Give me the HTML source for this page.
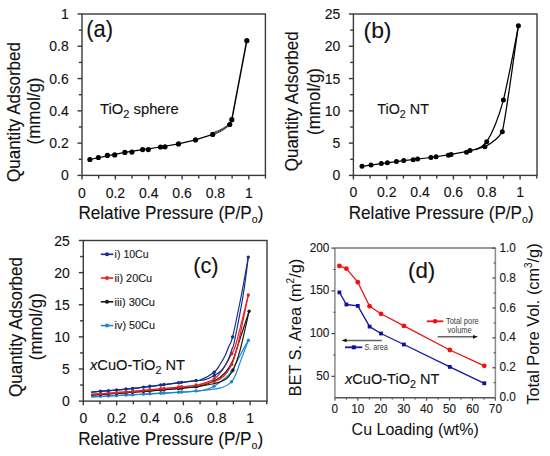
<!DOCTYPE html>
<html><head><meta charset="utf-8">
<style>
html,body{margin:0;padding:0;background:#fff;width:550px;height:456px;overflow:hidden;}
svg{display:block;font-family:"Liberation Sans", sans-serif;}
text{stroke:#111;stroke-width:0.12px;}
.thin{stroke:none;}
</style></head>
<body>
<svg width="550" height="456" viewBox="0 0 550 456">
<rect x="0" y="0" width="550" height="456" fill="#fff"/>
<rect x="82" y="14" width="183.4" height="161.4" fill="none" stroke="#3a3a3a" stroke-width="1.4"/>
<line x1="77.5" y1="175.4" x2="82" y2="175.4" stroke="#3a3a3a" stroke-width="1.4"/>
<line x1="77.5" y1="143.12" x2="82" y2="143.12" stroke="#3a3a3a" stroke-width="1.4"/>
<line x1="77.5" y1="110.84" x2="82" y2="110.84" stroke="#3a3a3a" stroke-width="1.4"/>
<line x1="77.5" y1="78.56" x2="82" y2="78.56" stroke="#3a3a3a" stroke-width="1.4"/>
<line x1="77.5" y1="46.28" x2="82" y2="46.28" stroke="#3a3a3a" stroke-width="1.4"/>
<line x1="77.5" y1="14" x2="82" y2="14" stroke="#3a3a3a" stroke-width="1.4"/>
<line x1="78.8" y1="159.26" x2="82" y2="159.26" stroke="#3a3a3a" stroke-width="1.4"/>
<line x1="78.8" y1="126.98" x2="82" y2="126.98" stroke="#3a3a3a" stroke-width="1.4"/>
<line x1="78.8" y1="94.7" x2="82" y2="94.7" stroke="#3a3a3a" stroke-width="1.4"/>
<line x1="78.8" y1="62.42" x2="82" y2="62.42" stroke="#3a3a3a" stroke-width="1.4"/>
<line x1="78.8" y1="30.14" x2="82" y2="30.14" stroke="#3a3a3a" stroke-width="1.4"/>
<line x1="82" y1="175.4" x2="82" y2="179.6" stroke="#3a3a3a" stroke-width="1.4"/>
<line x1="115.36" y1="175.4" x2="115.36" y2="179.6" stroke="#3a3a3a" stroke-width="1.4"/>
<line x1="148.72" y1="175.4" x2="148.72" y2="179.6" stroke="#3a3a3a" stroke-width="1.4"/>
<line x1="182.08" y1="175.4" x2="182.08" y2="179.6" stroke="#3a3a3a" stroke-width="1.4"/>
<line x1="215.44" y1="175.4" x2="215.44" y2="179.6" stroke="#3a3a3a" stroke-width="1.4"/>
<line x1="248.8" y1="175.4" x2="248.8" y2="179.6" stroke="#3a3a3a" stroke-width="1.4"/>
<line x1="98.68" y1="175.4" x2="98.68" y2="178.6" stroke="#3a3a3a" stroke-width="1.4"/>
<line x1="132.04" y1="175.4" x2="132.04" y2="178.6" stroke="#3a3a3a" stroke-width="1.4"/>
<line x1="165.4" y1="175.4" x2="165.4" y2="178.6" stroke="#3a3a3a" stroke-width="1.4"/>
<line x1="198.76" y1="175.4" x2="198.76" y2="178.6" stroke="#3a3a3a" stroke-width="1.4"/>
<line x1="232.12" y1="175.4" x2="232.12" y2="178.6" stroke="#3a3a3a" stroke-width="1.4"/>
<line x1="265.48" y1="175.4" x2="265.48" y2="178.6" stroke="#3a3a3a" stroke-width="1.4"/>
<text x="68.7" y="180.4" font-size="15.2" text-anchor="end" fill="#111" textLength="7.79" lengthAdjust="spacingAndGlyphs">0</text>
<text x="68.7" y="148.12" font-size="15.2" text-anchor="end" fill="#111" textLength="19.46" lengthAdjust="spacingAndGlyphs">0.2</text>
<text x="68.7" y="115.84" font-size="15.2" text-anchor="end" fill="#111" textLength="19.46" lengthAdjust="spacingAndGlyphs">0.4</text>
<text x="68.7" y="83.56" font-size="15.2" text-anchor="end" fill="#111" textLength="19.46" lengthAdjust="spacingAndGlyphs">0.6</text>
<text x="68.7" y="51.28" font-size="15.2" text-anchor="end" fill="#111" textLength="19.46" lengthAdjust="spacingAndGlyphs">0.8</text>
<text x="68.7" y="19" font-size="15.2" text-anchor="end" fill="#111" textLength="7.79" lengthAdjust="spacingAndGlyphs">1</text>
<text x="82" y="197.5" font-size="15.2" text-anchor="middle" fill="#111" textLength="7.79" lengthAdjust="spacingAndGlyphs">0</text>
<text x="115.36" y="197.5" font-size="15.2" text-anchor="middle" fill="#111" textLength="19.46" lengthAdjust="spacingAndGlyphs">0.2</text>
<text x="148.72" y="197.5" font-size="15.2" text-anchor="middle" fill="#111" textLength="19.46" lengthAdjust="spacingAndGlyphs">0.4</text>
<text x="182.08" y="197.5" font-size="15.2" text-anchor="middle" fill="#111" textLength="19.46" lengthAdjust="spacingAndGlyphs">0.6</text>
<text x="215.44" y="197.5" font-size="15.2" text-anchor="middle" fill="#111" textLength="19.46" lengthAdjust="spacingAndGlyphs">0.8</text>
<text x="248.8" y="197.5" font-size="15.2" text-anchor="middle" fill="#111" textLength="7.79" lengthAdjust="spacingAndGlyphs">1</text>
<text transform="translate(19.7,112) rotate(-90)" font-size="17.6" text-anchor="middle" fill="#111" textLength="140" lengthAdjust="spacingAndGlyphs">Quantity Adsorbed</text>
<text transform="translate(39.7,111) rotate(-90)" font-size="17.6" text-anchor="middle" fill="#111" textLength="67" lengthAdjust="spacingAndGlyphs">(mmol/g)</text>
<text x="78.4" y="219.3" font-size="17.7" fill="#111" textLength="185" lengthAdjust="spacingAndGlyphs">Relative Pressure (P/P<tspan font-size="11" dy="4">o</tspan><tspan dy="-4">)</tspan></text>
<path d="M89.9,159.5 L107.4,155.8 L124.9,152.4 L142.6,149.6 L160.5,147.0 L178.5,143.9 L195.5,139.9 L212.7,134.4" fill="none" stroke="#000" stroke-width="1.2" stroke-linejoin="round" stroke-linecap="round" />
<path d="M229.7,124.5 L231.8,119.7 L246.8,40.7" fill="none" stroke="#000" stroke-width="1.5" stroke-linejoin="round" stroke-linecap="round" />
<path d="M213.5,134.6 C219,132.6 224,130.2 229.2,125.5" fill="none" stroke="#000" stroke-width="0.75" stroke-linejoin="round" stroke-linecap="round" transform="translate(0.00,-0.00)"/>
<path d="M213.5,134.6 C219,132.6 224,130.2 229.2,125.5" fill="none" stroke="#000" stroke-width="0.75" stroke-linejoin="round" stroke-linecap="round" transform="translate(0.65,-1.30)"/>
<path d="M213.5,134.6 C219,132.6 224,130.2 229.2,125.5" fill="none" stroke="#000" stroke-width="0.75" stroke-linejoin="round" stroke-linecap="round" transform="translate(1.30,-2.60)"/>
<circle cx="89.9" cy="159.5" r="2.6" fill="#000"/>
<circle cx="98.4" cy="157.5" r="2.6" fill="#000"/>
<circle cx="107.4" cy="155.4" r="2.6" fill="#000"/>
<circle cx="114.7" cy="154.9" r="2.6" fill="#000"/>
<circle cx="124.9" cy="152.4" r="2.6" fill="#000"/>
<circle cx="131.9" cy="152.1" r="2.6" fill="#000"/>
<circle cx="142.6" cy="149.6" r="2.6" fill="#000"/>
<circle cx="148.3" cy="149.6" r="2.6" fill="#000"/>
<circle cx="160.5" cy="147" r="2.6" fill="#000"/>
<circle cx="165" cy="146.8" r="2.6" fill="#000"/>
<circle cx="178.5" cy="143.9" r="2.6" fill="#000"/>
<circle cx="195.5" cy="139.9" r="2.6" fill="#000"/>
<circle cx="212.7" cy="134.4" r="2.6" fill="#000"/>
<circle cx="229.7" cy="124.5" r="2.6" fill="#000"/>
<circle cx="231.8" cy="119.7" r="2.6" fill="#000"/>
<circle cx="246.8" cy="40.7" r="2.6" fill="#000"/>
<text x="100" y="113.8" font-size="14" text-anchor="start" fill="#111" textLength="78.7" lengthAdjust="spacingAndGlyphs">TiO<tspan font-size="10.5" dy="4">2</tspan><tspan dy="-4"> sphere</tspan></text>
<text x="86.2" y="37.4" font-size="24" text-anchor="start" fill="#111" textLength="26.8" lengthAdjust="spacingAndGlyphs">(a)</text>
<rect x="353.4" y="14" width="183.6" height="161.4" fill="none" stroke="#3a3a3a" stroke-width="1.4"/>
<line x1="348.9" y1="175.4" x2="353.4" y2="175.4" stroke="#3a3a3a" stroke-width="1.4"/>
<line x1="348.9" y1="143.12" x2="353.4" y2="143.12" stroke="#3a3a3a" stroke-width="1.4"/>
<line x1="348.9" y1="110.84" x2="353.4" y2="110.84" stroke="#3a3a3a" stroke-width="1.4"/>
<line x1="348.9" y1="78.56" x2="353.4" y2="78.56" stroke="#3a3a3a" stroke-width="1.4"/>
<line x1="348.9" y1="46.28" x2="353.4" y2="46.28" stroke="#3a3a3a" stroke-width="1.4"/>
<line x1="348.9" y1="14" x2="353.4" y2="14" stroke="#3a3a3a" stroke-width="1.4"/>
<line x1="350.2" y1="159.26" x2="353.4" y2="159.26" stroke="#3a3a3a" stroke-width="1.4"/>
<line x1="350.2" y1="126.98" x2="353.4" y2="126.98" stroke="#3a3a3a" stroke-width="1.4"/>
<line x1="350.2" y1="94.7" x2="353.4" y2="94.7" stroke="#3a3a3a" stroke-width="1.4"/>
<line x1="350.2" y1="62.42" x2="353.4" y2="62.42" stroke="#3a3a3a" stroke-width="1.4"/>
<line x1="350.2" y1="30.14" x2="353.4" y2="30.14" stroke="#3a3a3a" stroke-width="1.4"/>
<line x1="353.4" y1="175.4" x2="353.4" y2="179.6" stroke="#3a3a3a" stroke-width="1.4"/>
<line x1="386.74" y1="175.4" x2="386.74" y2="179.6" stroke="#3a3a3a" stroke-width="1.4"/>
<line x1="420.08" y1="175.4" x2="420.08" y2="179.6" stroke="#3a3a3a" stroke-width="1.4"/>
<line x1="453.42" y1="175.4" x2="453.42" y2="179.6" stroke="#3a3a3a" stroke-width="1.4"/>
<line x1="486.76" y1="175.4" x2="486.76" y2="179.6" stroke="#3a3a3a" stroke-width="1.4"/>
<line x1="520.1" y1="175.4" x2="520.1" y2="179.6" stroke="#3a3a3a" stroke-width="1.4"/>
<line x1="370.07" y1="175.4" x2="370.07" y2="178.6" stroke="#3a3a3a" stroke-width="1.4"/>
<line x1="403.41" y1="175.4" x2="403.41" y2="178.6" stroke="#3a3a3a" stroke-width="1.4"/>
<line x1="436.75" y1="175.4" x2="436.75" y2="178.6" stroke="#3a3a3a" stroke-width="1.4"/>
<line x1="470.09" y1="175.4" x2="470.09" y2="178.6" stroke="#3a3a3a" stroke-width="1.4"/>
<line x1="503.43" y1="175.4" x2="503.43" y2="178.6" stroke="#3a3a3a" stroke-width="1.4"/>
<line x1="536.77" y1="175.4" x2="536.77" y2="178.6" stroke="#3a3a3a" stroke-width="1.4"/>
<text x="340.4" y="180.4" font-size="15.2" text-anchor="end" fill="#111" textLength="7.79" lengthAdjust="spacingAndGlyphs">0</text>
<text x="340.4" y="148.12" font-size="15.2" text-anchor="end" fill="#111" textLength="7.79" lengthAdjust="spacingAndGlyphs">5</text>
<text x="340.4" y="115.84" font-size="15.2" text-anchor="end" fill="#111" textLength="15.57" lengthAdjust="spacingAndGlyphs">10</text>
<text x="340.4" y="83.56" font-size="15.2" text-anchor="end" fill="#111" textLength="15.57" lengthAdjust="spacingAndGlyphs">15</text>
<text x="340.4" y="51.28" font-size="15.2" text-anchor="end" fill="#111" textLength="15.57" lengthAdjust="spacingAndGlyphs">20</text>
<text x="340.4" y="19" font-size="15.2" text-anchor="end" fill="#111" textLength="15.57" lengthAdjust="spacingAndGlyphs">25</text>
<text x="353.4" y="197.2" font-size="15.2" text-anchor="middle" fill="#111" textLength="7.79" lengthAdjust="spacingAndGlyphs">0</text>
<text x="386.74" y="197.2" font-size="15.2" text-anchor="middle" fill="#111" textLength="19.46" lengthAdjust="spacingAndGlyphs">0.2</text>
<text x="420.08" y="197.2" font-size="15.2" text-anchor="middle" fill="#111" textLength="19.46" lengthAdjust="spacingAndGlyphs">0.4</text>
<text x="453.42" y="197.2" font-size="15.2" text-anchor="middle" fill="#111" textLength="19.46" lengthAdjust="spacingAndGlyphs">0.6</text>
<text x="486.76" y="197.2" font-size="15.2" text-anchor="middle" fill="#111" textLength="19.46" lengthAdjust="spacingAndGlyphs">0.8</text>
<text x="520.1" y="197.2" font-size="15.2" text-anchor="middle" fill="#111" textLength="7.79" lengthAdjust="spacingAndGlyphs">1</text>
<text transform="translate(298.3,101.3) rotate(-90)" font-size="17.6" text-anchor="middle" fill="#111" textLength="140" lengthAdjust="spacingAndGlyphs">Quantity Adsorbed</text>
<text transform="translate(319.6,101.5) rotate(-90)" font-size="17.6" text-anchor="middle" fill="#111" textLength="67" lengthAdjust="spacingAndGlyphs">(mmol/g)</text>
<text x="348.7" y="218.7" font-size="17.7" fill="#111" textLength="185" lengthAdjust="spacingAndGlyphs">Relative Pressure (P/P<tspan font-size="11" dy="4">o</tspan><tspan dy="-4">)</tspan></text>
<path d="M362,166.3 L381.3,163.6 L403.7,160.6 L430.9,157.5 L451.1,154.4 L470,150.8 L484.9,146.7 C492,143 498,138.5 502.3,131.8 C507,110 513,62 518.4,25.8" fill="none" stroke="#000" stroke-width="1.25" stroke-linejoin="round" stroke-linecap="round" />
<path d="M476,149.6 C480,148 484,145 486.7,141.8 C493,132 499,116 503.4,100.1 C508,80 513,55 518.4,25.8" fill="none" stroke="#000" stroke-width="1.25" stroke-linejoin="round" stroke-linecap="round" />
<circle cx="362" cy="166.3" r="2.5" fill="#000"/>
<circle cx="371" cy="164.9" r="2.5" fill="#000"/>
<circle cx="381.3" cy="163.6" r="2.5" fill="#000"/>
<circle cx="387.4" cy="162.7" r="2.5" fill="#000"/>
<circle cx="396.4" cy="161.6" r="2.5" fill="#000"/>
<circle cx="403.7" cy="160.6" r="2.5" fill="#000"/>
<circle cx="413.2" cy="159.8" r="2.5" fill="#000"/>
<circle cx="417.6" cy="159.1" r="2.5" fill="#000"/>
<circle cx="430.9" cy="157.5" r="2.5" fill="#000"/>
<circle cx="436.1" cy="156.7" r="2.5" fill="#000"/>
<circle cx="448.4" cy="155.3" r="2.5" fill="#000"/>
<circle cx="451.1" cy="154.4" r="2.5" fill="#000"/>
<circle cx="466.5" cy="152.3" r="2.5" fill="#000"/>
<circle cx="470" cy="150.5" r="2.5" fill="#000"/>
<circle cx="484.9" cy="146.7" r="2.5" fill="#000"/>
<circle cx="486.7" cy="141.8" r="2.5" fill="#000"/>
<circle cx="502.3" cy="131.8" r="2.5" fill="#000"/>
<circle cx="503.4" cy="100.1" r="2.5" fill="#000"/>
<circle cx="518.4" cy="25.8" r="2.5" fill="#000"/>
<text x="377.3" y="113.9" font-size="14.8" text-anchor="start" fill="#111" textLength="51.6" lengthAdjust="spacingAndGlyphs">TiO<tspan font-size="11" dy="4.1">2</tspan><tspan dy="-4.1"> NT</tspan></text>
<text x="363.5" y="37.6" font-size="22.5" text-anchor="start" fill="#111" textLength="28" lengthAdjust="spacingAndGlyphs">(b)</text>
<rect x="83.3" y="240.5" width="183.7" height="160.6" fill="none" stroke="#3a3a3a" stroke-width="1.4"/>
<line x1="78.8" y1="401.1" x2="83.3" y2="401.1" stroke="#3a3a3a" stroke-width="1.4"/>
<line x1="78.8" y1="368.98" x2="83.3" y2="368.98" stroke="#3a3a3a" stroke-width="1.4"/>
<line x1="78.8" y1="336.86" x2="83.3" y2="336.86" stroke="#3a3a3a" stroke-width="1.4"/>
<line x1="78.8" y1="304.74" x2="83.3" y2="304.74" stroke="#3a3a3a" stroke-width="1.4"/>
<line x1="78.8" y1="272.62" x2="83.3" y2="272.62" stroke="#3a3a3a" stroke-width="1.4"/>
<line x1="78.8" y1="240.5" x2="83.3" y2="240.5" stroke="#3a3a3a" stroke-width="1.4"/>
<line x1="80.1" y1="385.04" x2="83.3" y2="385.04" stroke="#3a3a3a" stroke-width="1.4"/>
<line x1="80.1" y1="352.92" x2="83.3" y2="352.92" stroke="#3a3a3a" stroke-width="1.4"/>
<line x1="80.1" y1="320.8" x2="83.3" y2="320.8" stroke="#3a3a3a" stroke-width="1.4"/>
<line x1="80.1" y1="288.68" x2="83.3" y2="288.68" stroke="#3a3a3a" stroke-width="1.4"/>
<line x1="80.1" y1="256.56" x2="83.3" y2="256.56" stroke="#3a3a3a" stroke-width="1.4"/>
<line x1="83.3" y1="401.1" x2="83.3" y2="405.3" stroke="#3a3a3a" stroke-width="1.4"/>
<line x1="116.66" y1="401.1" x2="116.66" y2="405.3" stroke="#3a3a3a" stroke-width="1.4"/>
<line x1="150.02" y1="401.1" x2="150.02" y2="405.3" stroke="#3a3a3a" stroke-width="1.4"/>
<line x1="183.38" y1="401.1" x2="183.38" y2="405.3" stroke="#3a3a3a" stroke-width="1.4"/>
<line x1="216.74" y1="401.1" x2="216.74" y2="405.3" stroke="#3a3a3a" stroke-width="1.4"/>
<line x1="250.1" y1="401.1" x2="250.1" y2="405.3" stroke="#3a3a3a" stroke-width="1.4"/>
<line x1="99.98" y1="401.1" x2="99.98" y2="404.3" stroke="#3a3a3a" stroke-width="1.4"/>
<line x1="133.34" y1="401.1" x2="133.34" y2="404.3" stroke="#3a3a3a" stroke-width="1.4"/>
<line x1="166.7" y1="401.1" x2="166.7" y2="404.3" stroke="#3a3a3a" stroke-width="1.4"/>
<line x1="200.06" y1="401.1" x2="200.06" y2="404.3" stroke="#3a3a3a" stroke-width="1.4"/>
<line x1="233.42" y1="401.1" x2="233.42" y2="404.3" stroke="#3a3a3a" stroke-width="1.4"/>
<line x1="266.78" y1="401.1" x2="266.78" y2="404.3" stroke="#3a3a3a" stroke-width="1.4"/>
<text x="69.7" y="406.1" font-size="15.2" text-anchor="end" fill="#111" textLength="7.79" lengthAdjust="spacingAndGlyphs">0</text>
<text x="69.7" y="373.98" font-size="15.2" text-anchor="end" fill="#111" textLength="7.79" lengthAdjust="spacingAndGlyphs">5</text>
<text x="69.7" y="341.86" font-size="15.2" text-anchor="end" fill="#111" textLength="15.57" lengthAdjust="spacingAndGlyphs">10</text>
<text x="69.7" y="309.74" font-size="15.2" text-anchor="end" fill="#111" textLength="15.57" lengthAdjust="spacingAndGlyphs">15</text>
<text x="69.7" y="277.62" font-size="15.2" text-anchor="end" fill="#111" textLength="15.57" lengthAdjust="spacingAndGlyphs">20</text>
<text x="69.7" y="245.5" font-size="15.2" text-anchor="end" fill="#111" textLength="15.57" lengthAdjust="spacingAndGlyphs">25</text>
<text x="83.3" y="423.4" font-size="15.2" text-anchor="middle" fill="#111" textLength="7.79" lengthAdjust="spacingAndGlyphs">0</text>
<text x="116.66" y="423.4" font-size="15.2" text-anchor="middle" fill="#111" textLength="19.46" lengthAdjust="spacingAndGlyphs">0.2</text>
<text x="150.02" y="423.4" font-size="15.2" text-anchor="middle" fill="#111" textLength="19.46" lengthAdjust="spacingAndGlyphs">0.4</text>
<text x="183.38" y="423.4" font-size="15.2" text-anchor="middle" fill="#111" textLength="19.46" lengthAdjust="spacingAndGlyphs">0.6</text>
<text x="216.74" y="423.4" font-size="15.2" text-anchor="middle" fill="#111" textLength="19.46" lengthAdjust="spacingAndGlyphs">0.8</text>
<text x="250.1" y="423.4" font-size="15.2" text-anchor="middle" fill="#111" textLength="7.79" lengthAdjust="spacingAndGlyphs">1</text>
<text transform="translate(21.5,327) rotate(-90)" font-size="17.6" text-anchor="middle" fill="#111" textLength="140" lengthAdjust="spacingAndGlyphs">Quantity Adsorbed</text>
<text transform="translate(41.5,326.7) rotate(-90)" font-size="17.6" text-anchor="middle" fill="#111" textLength="67" lengthAdjust="spacingAndGlyphs">(mmol/g)</text>
<text x="78.2" y="445" font-size="17.7" fill="#111" textLength="185" lengthAdjust="spacingAndGlyphs">Relative Pressure (P/P<tspan font-size="11" dy="4">o</tspan><tspan dy="-4">)</tspan></text>
<path d="M91.6,396.8 C98,396.48 113.6,395.77 130,394.9 C146.4,394.03 177.5,392.43 190,391.6 C202.5,390.77 201,390.8 205,389.9 C209,389 211.17,387.77 214,386.2 C216.83,384.63 219.03,382.97 222,380.5 C224.97,378.03 228.5,376.15 231.8,371.4 C235.1,366.65 239.03,357.2 241.8,352 C244.57,346.8 247.3,342.17 248.4,340.2" fill="none" stroke="#1d86d4" stroke-width="1.2" stroke-linejoin="round" stroke-linecap="round" />
<path d="M91.6,396.8 C98,396.48 113.6,395.77 130,394.9 C146.4,394.03 176.22,392.55 190,391.6 C203.78,390.65 207.2,389.92 212.7,389.2 C218.2,388.48 219.87,388.53 223,387.3 C226.13,386.07 229.38,383.93 231.5,381.8 C233.62,379.67 233.98,378.53 235.7,374.5 C237.42,370.47 239.68,363.32 241.8,357.6 C243.92,351.88 247.3,343.1 248.4,340.2" fill="none" stroke="#1d86d4" stroke-width="1.2" stroke-linejoin="round" stroke-linecap="round" />
<circle cx="100.5" cy="396.36" r="1.7" fill="#1d86d4"/>
<circle cx="108.5" cy="395.96" r="1.7" fill="#1d86d4"/>
<circle cx="116.6" cy="395.56" r="1.7" fill="#1d86d4"/>
<circle cx="126" cy="395.1" r="1.7" fill="#1d86d4"/>
<circle cx="132.6" cy="394.76" r="1.7" fill="#1d86d4"/>
<circle cx="143.5" cy="394.16" r="1.7" fill="#1d86d4"/>
<circle cx="149.8" cy="393.81" r="1.7" fill="#1d86d4"/>
<circle cx="160.8" cy="393.21" r="1.7" fill="#1d86d4"/>
<circle cx="164" cy="393.03" r="1.7" fill="#1d86d4"/>
<circle cx="178.6" cy="392.23" r="1.7" fill="#1d86d4"/>
<circle cx="181.6" cy="392.06" r="1.7" fill="#1d86d4"/>
<circle cx="196.1" cy="390.91" r="1.7" fill="#1d86d4"/>
<circle cx="214" cy="386.2" r="1.7" fill="#1d86d4"/>
<circle cx="231.8" cy="371.4" r="1.7" fill="#1d86d4"/>
<circle cx="248.4" cy="340.2" r="1.7" fill="#1d86d4"/>
<circle cx="231.5" cy="381.8" r="1.7" fill="#1d86d4"/>
<path d="M91.6,395.2 C98,394.75 113.6,393.78 130,392.5 C146.4,391.22 178.33,388.55 190,387.5 C201.67,386.45 195.97,387.28 200,386.2 C204.03,385.12 210.03,383.2 214.2,381 C218.37,378.8 221.93,376.33 225,373 C228.07,369.67 230.43,365.67 232.6,361 C234.77,356.33 235.25,353.3 238,345 C240.75,336.7 247.25,316.83 249.1,311.2" fill="none" stroke="#1a1a1a" stroke-width="1.2" stroke-linejoin="round" stroke-linecap="round" />
<path d="M91.6,395.2 C98,394.75 113.6,393.78 130,392.5 C146.4,391.22 176,388.98 190,387.5 C204,386.02 208,385.02 214,383.6 C220,382.18 222.83,381.27 226,379 C229.17,376.73 231,373.67 233,370 C235,366.33 236.6,361.17 238,357 C239.4,352.83 239.55,352.63 241.4,345 C243.25,337.37 247.82,316.83 249.1,311.2" fill="none" stroke="#1a1a1a" stroke-width="1.2" stroke-linejoin="round" stroke-linecap="round" />
<circle cx="100.5" cy="394.57" r="1.7" fill="#1a1a1a"/>
<circle cx="108.5" cy="394.01" r="1.7" fill="#1a1a1a"/>
<circle cx="116.6" cy="393.44" r="1.7" fill="#1a1a1a"/>
<circle cx="126" cy="392.78" r="1.7" fill="#1a1a1a"/>
<circle cx="132.6" cy="392.28" r="1.7" fill="#1a1a1a"/>
<circle cx="143.5" cy="391.38" r="1.7" fill="#1a1a1a"/>
<circle cx="149.8" cy="390.85" r="1.7" fill="#1a1a1a"/>
<circle cx="160.8" cy="389.93" r="1.7" fill="#1a1a1a"/>
<circle cx="164" cy="389.67" r="1.7" fill="#1a1a1a"/>
<circle cx="178.6" cy="388.45" r="1.7" fill="#1a1a1a"/>
<circle cx="181.6" cy="388.2" r="1.7" fill="#1a1a1a"/>
<circle cx="196.1" cy="386.71" r="1.7" fill="#1a1a1a"/>
<circle cx="214.2" cy="381" r="1.7" fill="#1a1a1a"/>
<circle cx="249.1" cy="311.2" r="1.7" fill="#1a1a1a"/>
<circle cx="233" cy="370" r="1.7" fill="#1a1a1a"/>
<path d="M91.6,394.4 C98,393.93 113.6,393 130,391.6 C146.4,390.2 178.33,387.22 190,386 C201.67,384.78 195.97,385.48 200,384.3 C204.03,383.12 210.3,381.57 214.2,378.9 C218.1,376.23 220.47,372.48 223.4,368.3 C226.33,364.12 229.62,358.18 231.8,353.8 C233.98,349.42 233.75,351.8 236.5,342 C239.25,332.2 246.33,302.83 248.3,295" fill="none" stroke="#e8231f" stroke-width="1.2" stroke-linejoin="round" stroke-linecap="round" />
<path d="M91.6,394.4 C98,393.93 113.6,393 130,391.6 C146.4,390.2 175.95,387.68 190,386 C204.05,384.32 208.63,383.17 214.3,381.5 C219.97,379.83 221.08,378.83 224,376 C226.92,373.17 229.8,368.5 231.8,364.5 C233.8,360.5 234.8,356.08 236,352 C237.2,347.92 236.95,349.5 239,340 C241.05,330.5 246.75,302.5 248.3,295" fill="none" stroke="#e8231f" stroke-width="1.2" stroke-linejoin="round" stroke-linecap="round" />
<circle cx="100.5" cy="393.75" r="1.7" fill="#e8231f"/>
<circle cx="108.5" cy="393.17" r="1.7" fill="#e8231f"/>
<circle cx="116.6" cy="392.58" r="1.7" fill="#e8231f"/>
<circle cx="126" cy="391.89" r="1.7" fill="#e8231f"/>
<circle cx="132.6" cy="391.36" r="1.7" fill="#e8231f"/>
<circle cx="143.5" cy="390.34" r="1.7" fill="#e8231f"/>
<circle cx="149.8" cy="389.75" r="1.7" fill="#e8231f"/>
<circle cx="160.8" cy="388.73" r="1.7" fill="#e8231f"/>
<circle cx="164" cy="388.43" r="1.7" fill="#e8231f"/>
<circle cx="178.6" cy="387.06" r="1.7" fill="#e8231f"/>
<circle cx="181.6" cy="386.78" r="1.7" fill="#e8231f"/>
<circle cx="196.1" cy="384.96" r="1.7" fill="#e8231f"/>
<circle cx="214.2" cy="378.9" r="1.7" fill="#e8231f"/>
<circle cx="231.8" cy="353.8" r="1.7" fill="#e8231f"/>
<circle cx="248.3" cy="295" r="1.7" fill="#e8231f"/>
<circle cx="231.8" cy="364.5" r="1.7" fill="#e8231f"/>
<path d="M91.6,392.1 C98.5,391.48 116.6,390.2 133,388.4 C149.4,386.6 178.83,382.68 190,381.3 C201.17,379.92 195.97,381.62 200,380.1 C204.03,378.58 210.87,374.8 214.2,372.2 C217.53,369.6 218.22,367.18 220,364.5 C221.78,361.82 223.4,359.18 224.9,356.1 C226.4,353.02 227.72,349.2 229,346 C230.28,342.8 230.53,345.4 232.6,336.9 C234.67,328.4 238.78,308.3 241.4,295 C244.02,281.7 247.15,263.42 248.3,257.1" fill="none" stroke="#152d8a" stroke-width="1.2" stroke-linejoin="round" stroke-linecap="round" />
<path d="M91.6,392.1 C98.5,391.48 116.6,390.2 133,388.4 C149.4,386.6 178,382.77 190,381.3 C202,379.83 200.95,380.57 205,379.6 C209.05,378.63 211.47,377.1 214.3,375.5 C217.13,373.9 219.72,372.58 222,370 C224.28,367.42 226.33,363.5 228,360 C229.67,356.5 230.92,352.17 232,349 C233.08,345.83 232.63,350 234.5,341 C236.37,332 240.9,308.98 243.2,295 C245.5,281.02 247.45,263.42 248.3,257.1" fill="none" stroke="#152d8a" stroke-width="1.2" stroke-linejoin="round" stroke-linecap="round" />
<circle cx="100.5" cy="391.3" r="1.7" fill="#152d8a"/>
<circle cx="108.5" cy="390.59" r="1.7" fill="#152d8a"/>
<circle cx="116.6" cy="389.87" r="1.7" fill="#152d8a"/>
<circle cx="126" cy="389.03" r="1.7" fill="#152d8a"/>
<circle cx="132.6" cy="388.44" r="1.7" fill="#152d8a"/>
<circle cx="143.5" cy="387.09" r="1.7" fill="#152d8a"/>
<circle cx="149.8" cy="386.31" r="1.7" fill="#152d8a"/>
<circle cx="160.8" cy="384.94" r="1.7" fill="#152d8a"/>
<circle cx="164" cy="384.54" r="1.7" fill="#152d8a"/>
<circle cx="178.6" cy="382.72" r="1.7" fill="#152d8a"/>
<circle cx="181.6" cy="382.35" r="1.7" fill="#152d8a"/>
<circle cx="196.1" cy="380.57" r="1.7" fill="#152d8a"/>
<circle cx="214.2" cy="372.2" r="1.7" fill="#152d8a"/>
<circle cx="232.6" cy="336.9" r="1.7" fill="#152d8a"/>
<circle cx="248.3" cy="257.1" r="1.7" fill="#152d8a"/>
<circle cx="214.3" cy="375.5" r="1.7" fill="#152d8a"/>
<line x1="100.8" y1="254.3" x2="113.3" y2="254.3" stroke="#152d8a" stroke-width="1.6"/>
<circle cx="107" cy="254.3" r="2" fill="#152d8a"/>
<text x="114.6" y="258.1" font-size="10.8" text-anchor="start" fill="#1a1a1a" textLength="34" lengthAdjust="spacingAndGlyphs">i) 10Cu</text>
<line x1="100.8" y1="278.05" x2="113.3" y2="278.05" stroke="#e8231f" stroke-width="1.6"/>
<circle cx="107" cy="278.05" r="2" fill="#e8231f"/>
<text x="114.6" y="281.85" font-size="10.8" text-anchor="start" fill="#1a1a1a" textLength="37.6" lengthAdjust="spacingAndGlyphs">ii) 20Cu</text>
<line x1="100.8" y1="301.8" x2="113.3" y2="301.8" stroke="#1a1a1a" stroke-width="1.6"/>
<circle cx="107" cy="301.8" r="2" fill="#1a1a1a"/>
<text x="114.6" y="305.6" font-size="10.8" text-anchor="start" fill="#1a1a1a" textLength="40.4" lengthAdjust="spacingAndGlyphs">iii) 30Cu</text>
<line x1="100.8" y1="325.55" x2="113.3" y2="325.55" stroke="#1d86d4" stroke-width="1.6"/>
<circle cx="107" cy="325.55" r="2" fill="#1d86d4"/>
<text x="114.6" y="329.35" font-size="10.8" text-anchor="start" fill="#1a1a1a" textLength="40.4" lengthAdjust="spacingAndGlyphs">iv) 50Cu</text>
<text x="193.2" y="272.7" font-size="22" text-anchor="start" fill="#111" textLength="25.4" lengthAdjust="spacingAndGlyphs">(c)</text>
<text x="90" y="370" font-size="15" text-anchor="start" fill="#111" textLength="95" lengthAdjust="spacingAndGlyphs"><tspan font-style="italic">x</tspan>CuO-TiO<tspan font-size="11" dy="4.3">2</tspan><tspan dy="-4.3"> NT</tspan></text>
<line x1="334.9" y1="248.1" x2="334.9" y2="397.7" stroke="#8a8a8a" stroke-width="1.5"/>
<line x1="495.4" y1="248.1" x2="495.4" y2="397.7" stroke="#8a8a8a" stroke-width="1.5"/>
<line x1="334.9" y1="248.1" x2="495.4" y2="248.1" stroke="#777" stroke-width="1.5"/>
<line x1="334.9" y1="397.7" x2="495.4" y2="397.7" stroke="#555" stroke-width="1.5"/>
<line x1="331.4" y1="376.33" x2="334.9" y2="376.33" stroke="#444" stroke-width="1.2"/>
<text x="329.4" y="379.93" font-size="12.6" text-anchor="end" fill="#1a1a1a" textLength="13.12" lengthAdjust="spacingAndGlyphs">50</text>
<line x1="331.4" y1="333.59" x2="334.9" y2="333.59" stroke="#444" stroke-width="1.2"/>
<text x="329.4" y="337.19" font-size="12.6" text-anchor="end" fill="#1a1a1a" textLength="19.68" lengthAdjust="spacingAndGlyphs">100</text>
<line x1="331.4" y1="290.84" x2="334.9" y2="290.84" stroke="#444" stroke-width="1.2"/>
<text x="329.4" y="294.44" font-size="12.6" text-anchor="end" fill="#1a1a1a" textLength="19.68" lengthAdjust="spacingAndGlyphs">150</text>
<line x1="331.4" y1="248.1" x2="334.9" y2="248.1" stroke="#444" stroke-width="1.2"/>
<text x="329.4" y="251.7" font-size="12.6" text-anchor="end" fill="#1a1a1a" textLength="19.68" lengthAdjust="spacingAndGlyphs">200</text>
<line x1="333.4" y1="354.96" x2="335.4" y2="354.96" stroke="#444" stroke-width="1.0"/>
<line x1="333.4" y1="312.21" x2="335.4" y2="312.21" stroke="#444" stroke-width="1.0"/>
<line x1="333.4" y1="269.47" x2="335.4" y2="269.47" stroke="#444" stroke-width="1.0"/>
<line x1="492.4" y1="367.78" x2="495.4" y2="367.78" stroke="#444" stroke-width="1.2"/>
<line x1="492.4" y1="337.86" x2="495.4" y2="337.86" stroke="#444" stroke-width="1.2"/>
<line x1="492.4" y1="307.94" x2="495.4" y2="307.94" stroke="#444" stroke-width="1.2"/>
<line x1="492.4" y1="278.02" x2="495.4" y2="278.02" stroke="#444" stroke-width="1.2"/>
<line x1="492.4" y1="248.1" x2="495.4" y2="248.1" stroke="#444" stroke-width="1.2"/>
<line x1="493.6" y1="382.74" x2="495.4" y2="382.74" stroke="#444" stroke-width="1.0"/>
<line x1="493.6" y1="352.82" x2="495.4" y2="352.82" stroke="#444" stroke-width="1.0"/>
<line x1="493.6" y1="322.9" x2="495.4" y2="322.9" stroke="#444" stroke-width="1.0"/>
<line x1="493.6" y1="292.98" x2="495.4" y2="292.98" stroke="#444" stroke-width="1.0"/>
<line x1="493.6" y1="263.06" x2="495.4" y2="263.06" stroke="#444" stroke-width="1.0"/>
<text x="499.5" y="401.3" font-size="12.6" text-anchor="start" fill="#1a1a1a" textLength="16.4" lengthAdjust="spacingAndGlyphs">0.0</text>
<text x="499.5" y="371.38" font-size="12.6" text-anchor="start" fill="#1a1a1a" textLength="16.4" lengthAdjust="spacingAndGlyphs">0.2</text>
<text x="499.5" y="341.46" font-size="12.6" text-anchor="start" fill="#1a1a1a" textLength="16.4" lengthAdjust="spacingAndGlyphs">0.4</text>
<text x="499.5" y="311.54" font-size="12.6" text-anchor="start" fill="#1a1a1a" textLength="16.4" lengthAdjust="spacingAndGlyphs">0.6</text>
<text x="499.5" y="281.62" font-size="12.6" text-anchor="start" fill="#1a1a1a" textLength="16.4" lengthAdjust="spacingAndGlyphs">0.8</text>
<text x="499.5" y="251.7" font-size="12.6" text-anchor="start" fill="#1a1a1a" textLength="16.4" lengthAdjust="spacingAndGlyphs">1.0</text>
<line x1="334.9" y1="397.7" x2="334.9" y2="400.7" stroke="#555" stroke-width="1.2"/>
<text x="334.9" y="412.6" font-size="12.6" text-anchor="middle" fill="#1a1a1a" textLength="6.56" lengthAdjust="spacingAndGlyphs">0</text>
<line x1="357.83" y1="397.7" x2="357.83" y2="400.7" stroke="#555" stroke-width="1.2"/>
<text x="357.83" y="412.6" font-size="12.6" text-anchor="middle" fill="#1a1a1a" textLength="13.12" lengthAdjust="spacingAndGlyphs">10</text>
<line x1="380.76" y1="397.7" x2="380.76" y2="400.7" stroke="#555" stroke-width="1.2"/>
<text x="380.76" y="412.6" font-size="12.6" text-anchor="middle" fill="#1a1a1a" textLength="13.12" lengthAdjust="spacingAndGlyphs">20</text>
<line x1="403.69" y1="397.7" x2="403.69" y2="400.7" stroke="#555" stroke-width="1.2"/>
<text x="403.69" y="412.6" font-size="12.6" text-anchor="middle" fill="#1a1a1a" textLength="13.12" lengthAdjust="spacingAndGlyphs">30</text>
<line x1="426.61" y1="397.7" x2="426.61" y2="400.7" stroke="#555" stroke-width="1.2"/>
<text x="426.61" y="412.6" font-size="12.6" text-anchor="middle" fill="#1a1a1a" textLength="13.12" lengthAdjust="spacingAndGlyphs">40</text>
<line x1="449.54" y1="397.7" x2="449.54" y2="400.7" stroke="#555" stroke-width="1.2"/>
<text x="449.54" y="412.6" font-size="12.6" text-anchor="middle" fill="#1a1a1a" textLength="13.12" lengthAdjust="spacingAndGlyphs">50</text>
<line x1="472.47" y1="397.7" x2="472.47" y2="400.7" stroke="#555" stroke-width="1.2"/>
<text x="472.47" y="412.6" font-size="12.6" text-anchor="middle" fill="#1a1a1a" textLength="13.12" lengthAdjust="spacingAndGlyphs">60</text>
<line x1="495.4" y1="397.7" x2="495.4" y2="400.7" stroke="#555" stroke-width="1.2"/>
<text x="495.4" y="412.6" font-size="12.6" text-anchor="middle" fill="#1a1a1a" textLength="13.12" lengthAdjust="spacingAndGlyphs">70</text>
<line x1="346.36" y1="397.7" x2="346.36" y2="399.7" stroke="#555" stroke-width="1.0"/>
<line x1="369.29" y1="397.7" x2="369.29" y2="399.7" stroke="#555" stroke-width="1.0"/>
<line x1="392.22" y1="397.7" x2="392.22" y2="399.7" stroke="#555" stroke-width="1.0"/>
<line x1="415.15" y1="397.7" x2="415.15" y2="399.7" stroke="#555" stroke-width="1.0"/>
<line x1="438.08" y1="397.7" x2="438.08" y2="399.7" stroke="#555" stroke-width="1.0"/>
<line x1="461.01" y1="397.7" x2="461.01" y2="399.7" stroke="#555" stroke-width="1.0"/>
<line x1="483.94" y1="397.7" x2="483.94" y2="399.7" stroke="#555" stroke-width="1.0"/>
<text class="thin" transform="translate(301,327.5) rotate(-90)" font-size="16.3" text-anchor="middle" fill="#111">BET S. Area (m<tspan font-size="10" dy="-7">2</tspan><tspan dy="7">/g)</tspan></text>
<text class="thin" transform="translate(538.9,324) rotate(-90)" font-size="16.3" text-anchor="middle" fill="#111">Total Pore Vol. (cm<tspan font-size="10" dy="-7">3</tspan><tspan dy="7">/g)</tspan></text>
<text x="415.2" y="435.4" font-size="16" text-anchor="middle" fill="#111" class="thin">Cu Loading (wt%)</text>
<path d="M339.4,265.9 L346.4,268.7 L357.8,282.2 L369.6,306.2 L381,313.8 L403.9,325.9 L449.8,350 L484.3,365.8" fill="none" stroke="#f01010" stroke-width="1.3" stroke-linejoin="round" stroke-linecap="round" />
<path d="M339.4,292.4 L346.4,304.5 L357.8,305.9 L369.6,326.6 L381,333.5 L403.9,344.5 L449.8,366.9 L484.3,383.3" fill="none" stroke="#1515a0" stroke-width="1.3" stroke-linejoin="round" stroke-linecap="round" />
<circle cx="339.4" cy="265.9" r="2.4" fill="#f01010"/>
<circle cx="346.4" cy="268.7" r="2.4" fill="#f01010"/>
<circle cx="357.8" cy="282.2" r="2.4" fill="#f01010"/>
<circle cx="369.6" cy="306.2" r="2.4" fill="#f01010"/>
<circle cx="381" cy="313.8" r="2.4" fill="#f01010"/>
<circle cx="403.9" cy="325.9" r="2.4" fill="#f01010"/>
<circle cx="449.8" cy="350" r="2.4" fill="#f01010"/>
<circle cx="484.3" cy="365.8" r="2.4" fill="#f01010"/>
<rect x="337.5" y="290.5" width="3.8" height="3.8" fill="#1010a0"/>
<rect x="344.5" y="302.6" width="3.8" height="3.8" fill="#1010a0"/>
<rect x="355.9" y="304" width="3.8" height="3.8" fill="#1010a0"/>
<rect x="367.7" y="324.7" width="3.8" height="3.8" fill="#1010a0"/>
<rect x="379.1" y="331.6" width="3.8" height="3.8" fill="#1010a0"/>
<rect x="402" y="342.6" width="3.8" height="3.8" fill="#1010a0"/>
<rect x="447.9" y="365" width="3.8" height="3.8" fill="#1010a0"/>
<rect x="482.4" y="381.4" width="3.8" height="3.8" fill="#1010a0"/>
<line x1="426.8" y1="321.3" x2="443.2" y2="321.3" stroke="#f01010" stroke-width="1.8"/>
<circle cx="435.1" cy="321.3" r="2.3" fill="#f01010"/>
<text x="445.9" y="324.3" font-size="8.3" text-anchor="start" fill="#3a3a3a" style="stroke:none" textLength="32.9" lengthAdjust="spacingAndGlyphs">Total pore</text>
<text x="447.6" y="333.4" font-size="8.3" text-anchor="start" fill="#3a3a3a" style="stroke:none" textLength="24.2" lengthAdjust="spacingAndGlyphs">volume</text>
<line x1="437.8" y1="336.8" x2="474.5" y2="336.8" stroke="#666" stroke-width="1.5"/>
<path d="M478,336.8 L473,334.9 L473,338.7 Z" fill="#111"/>
<line x1="345" y1="340.4" x2="381.9" y2="340.4" stroke="#666" stroke-width="1.5"/>
<path d="M341.6,340.4 L346.6,338.5 L346.6,342.3 Z" fill="#111"/>
<line x1="345" y1="347.3" x2="362.3" y2="347.3" stroke="#1515a0" stroke-width="1.8"/>
<rect x="351.8" y="345.3" width="4" height="4" fill="#1010a0"/>
<text x="364.4" y="350.2" font-size="8.3" text-anchor="start" fill="#3a3a3a" style="stroke:none" textLength="23.5" lengthAdjust="spacingAndGlyphs">S. area</text>
<text x="408" y="277.5" font-size="22" text-anchor="start" fill="#111" textLength="27.2" lengthAdjust="spacingAndGlyphs">(d)</text>
<text x="345" y="383.8" font-size="15" text-anchor="start" fill="#111" textLength="94.4" lengthAdjust="spacingAndGlyphs"><tspan font-style="italic">x</tspan>CuO-TiO<tspan font-size="11" dy="4.2">2</tspan><tspan dy="-4.2"> NT</tspan></text>
</svg>
</body></html>
